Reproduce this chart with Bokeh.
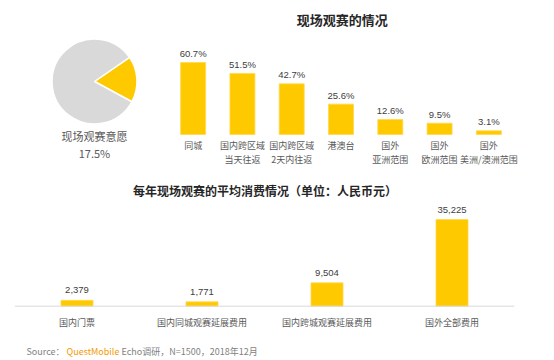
import math
from bokeh.plotting import figure
from bokeh.layouts import column, row
from bokeh.models import Range1d, FactorRange, Label, Span, ColumnDataSource
from bokeh.core.properties import value
from bokeh.embed import file_html
from bokeh.resources import INLINE

# ---- data ----
pie_labels = ["现场观赛意愿", "其他"]
pie_values = [17.5, 82.5]

watch_cats = ["同城", "国内跨区域\n当天往返", "国内跨区域\n2天内往返", "港澳台",
              "国外\n亚洲范围", "国外\n欧洲范围", "国外\n美洲/澳洲范围"]
watch_vals = [60.7, 51.5, 42.7, 25.6, 12.6, 9.5, 3.1]

spend_cats = ["国内门票", "国内同城观赛延展费用", "国内跨城观赛延展费用", "国外全部费用"]
spend_vals = [2379, 1771, 9504, 35225]

YELLOW = "#FFC900"
GREY = "#D9D9D9"
TXT = "#595959"
CJK = value("Noto Sans CJK SC")
NUM = value("Liberation Sans")

def base_fig(w, h, **kw):
    p = figure(width=w, height=h, output_backend="svg", toolbar_location=None,
               min_border_top=0, min_border_bottom=0, **kw)
    p.axis.visible = False
    p.grid.visible = False
    p.outline_line_color = None
    p.background_fill_color = "white"
    p.border_fill_color = "white"
    return p

# ---- pie ----
pw, ph = 140, 170
pie = base_fig(pw, ph, x_range=Range1d(-94, pw - 94), y_range=Range1d(-(ph - 81), 81),
               min_border_left=0, min_border_right=0)
total = sum(pie_values)
start0 = math.radians(-28.5)
starts, ends = [], []
acc = start0
for v in pie_values:
    starts.append(acc)
    acc += 2 * math.pi * v / total
    ends.append(acc)
pie.wedge(x=0, y=0, radius=42.5, radius_units="screen", start_angle=starts, end_angle=ends,
          fill_color=[YELLOW, GREY], line_color="white", line_width=1.5)
pie.text(x=[0, 0], y=[-54, -71], text=[pie_labels[0], f"{pie_values[0]}%"],
         text_align="center", text_baseline="middle", text_font=CJK,
         text_font_size="11px", text_color=TXT)

# ---- top bar chart ----
bw, bh = 414, 170
px_per = 1.186
base_y = 134
top = base_fig(bw, bh, x_range=FactorRange(factors=watch_cats, range_padding=0.4054,
                                           range_padding_units="absolute"),
               y_range=Range1d(-(bh - base_y) / px_per, base_y / px_per),
               min_border_left=8, min_border_right=21)
line1 = [c.split("\n")[0] for c in watch_cats]
line2 = [c.split("\n")[1] if "\n" in c else "" for c in watch_cats]
src = ColumnDataSource(dict(c=watch_cats, v=watch_vals, l1=line1, l2=line2,
                            lab=[f"{x}%" for x in watch_vals]))
top.vbar(x="c", top="v", bottom=0, width=0.507, source=src, fill_color=YELLOW,
         line_color="#FFD84D", line_width=0.8)
top.text(x="c", y="v", text="lab", source=src, y_offset=-9, text_align="center",
         text_baseline="middle", text_font=NUM, text_font_size="9.5px", text_color="#404040")
top.text(x="c", y=0, text="l1", source=src, y_offset=11, text_align="center",
         text_baseline="middle", text_font=CJK, text_font_size="9px", text_color=TXT)
top.text(x="c", y=0, text="l2", source=src, y_offset=25, text_align="center",
         text_baseline="middle", text_font=CJK, text_font_size="9px", text_color=TXT)
top.add_layout(Label(x=341.7 - 148, y=bh - 19, x_units="screen", y_units="screen",
                     text="现场观赛的情况", text_align="center", text_baseline="middle",
                     text_font="Noto Sans CJK SC", text_font_size="13px",
                     text_font_style="bold", text_color="#262626"))

# ---- bottom bar chart ----
cw, chh = 554, 172
sc = 0.002461
base2 = 135.7
bot = base_fig(cw, chh, x_range=FactorRange(factors=spend_cats, range_padding=0),
               y_range=Range1d(-(chh - base2) / sc, base2 / sc),
               min_border_left=14, min_border_right=40)
src2 = ColumnDataSource(dict(c=spend_cats, v=spend_vals,
                             lab=[f"{x:,}" for x in spend_vals]))
bot.add_layout(Span(location=0, dimension="width", line_color="#D9D9D9", line_width=1))
bot.vbar(x="c", top="v", bottom=0, width=0.256, source=src2, fill_color=YELLOW,
         line_color="#FFD84D", line_width=0.8)
bot.text(x="c", y="v", text="lab", source=src2, y_offset=-10, text_align="center",
         text_baseline="middle", text_font=NUM, text_font_size="9.5px", text_color="#404040")
bot.text(x="c", y=0, text="c", source=src2, y_offset=16, text_align="center",
         text_baseline="middle", text_font=CJK, text_font_size="9px", text_color=TXT)
bot.add_layout(Label(x=250.5, y=chh - 20, x_units="screen", y_units="screen",
                     text="每年现场观赛的平均消费情况（单位：人民币元）", text_align="center",
                     text_baseline="middle", text_font="Noto Sans CJK SC",
                     text_font_size="12px", text_font_style="bold", text_color="#262626"))

# ---- footer ----
fh = 18
foot = base_fig(cw, fh, x_range=Range1d(0, cw), y_range=Range1d(0, fh),
                min_border_left=0, min_border_right=0)
fy = 360 - 350.5
foot.add_layout(Label(x=12, y=fy, x_units="screen", y_units="screen", text="Source：",
                      text_baseline="middle", text_font="Noto Sans CJK SC",
                      text_font_size="9px", text_color="#7F7F7F"))
foot.add_layout(Label(x=52, y=fy, x_units="screen", y_units="screen", text="QuestMobile",
                      text_baseline="middle", text_font="Noto Sans CJK SC",
                      text_font_size="9px", text_color="#F39800"))
foot.add_layout(Label(x=107, y=fy, x_units="screen", y_units="screen",
                      text="Echo调研，N=1500，2018年12月",
                      text_baseline="middle", text_font="Noto Sans CJK SC",
                      text_font_size="9px", text_color="#7F7F7F"))

layout = column(row(pie, top, spacing=0), bot, foot, spacing=0)
open("out.html", "w").write(file_html(layout, INLINE))
